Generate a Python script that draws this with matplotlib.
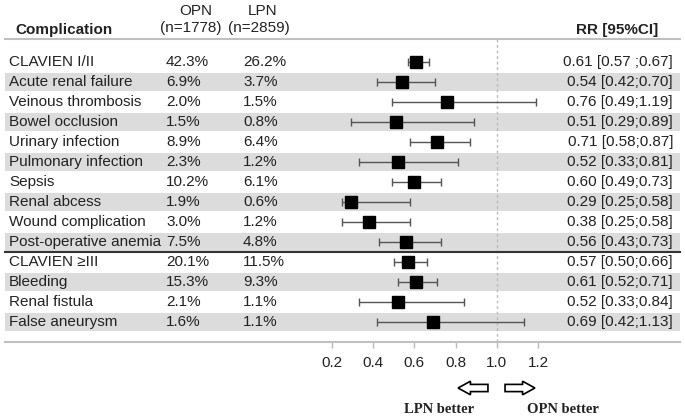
import matplotlib.pyplot as plt
from matplotlib.patches import FancyArrow
import matplotlib.transforms as mtransforms

plt.rcParams['font.family'] = ['Liberation Sans', 'DejaVu Sans']

# data
labels = ["CLAVIEN I/II", "Acute renal failure", "Veinous thrombosis", "Bowel occlusion",
          "Urinary infection", "Pulmonary infection", "Sepsis", "Renal abcess",
          "Wound complication", "Post-operative anemia", "CLAVIEN \u2265III", "Bleeding",
          "Renal fistula", "False aneurysm"]
opn = ["42.3%", "6.9%", "2.0%", "1.5%", "8.9%", "2.3%", "10.2%", "1.9%", "3.0%", "7.5%",
       "20.1%", "15.3%", "2.1%", "1.6%"]
lpn = ["26.2%", "3.7%", "1.5%", "0.8%", "6.4%", "1.2%", "6.1%", "0.6%", "1.2%", "4.8%",
       "11.5%", "9.3%", "1.1%", "1.1%"]
rr = [0.61, 0.54, 0.76, 0.51, 0.71, 0.52, 0.60, 0.29, 0.38, 0.56, 0.57, 0.61, 0.52, 0.69]
lo = [0.57, 0.42, 0.49, 0.29, 0.58, 0.33, 0.49, 0.25, 0.25, 0.43, 0.50, 0.52, 0.33, 0.42]
hi = [0.67, 0.70, 1.19, 0.89, 0.87, 0.81, 0.73, 0.58, 0.58, 0.73, 0.66, 0.71, 0.84, 1.13]
rr_text = ["0.61 [0.57 ;0.67]", "0.54 [0.42;0.70]", "0.76 [0.49;1.19]", "0.51 [0.29;0.89]",
           "0.71 [0.58;0.87]", "0.52 [0.33;0.81]", "0.60 [0.49;0.73]", "0.29 [0.25;0.58]",
           "0.38 [0.25;0.58]", "0.56 [0.43;0.73]", "0.57 [0.50;0.66]", "0.61 [0.52;0.71]",
           "0.52 [0.33;0.84]", "0.69 [0.42;1.13]"]
ticks = [0.2, 0.4, 0.6, 0.8, 1.0, 1.2]

W = 685
fig = plt.figure(figsize=(6.85, 4.2), dpi=100)
ax = fig.add_axes([0, 0, 1, 1])
ax.set_xlim(-1.4117, 1.9136)
ax.set_ylim(17.9, -3.1)

tr = mtransforms.blended_transform_factory(ax.transAxes, ax.transData)
n = len(labels)
rows = list(range(n))
txt = '#222222'

# shaded bands
for i in rows:
    if i % 2 == 1:
        ax.axhspan(i - 0.45, i + 0.45, xmin=5 / W, xmax=680 / W, color='#dcdcdc', lw=0, zorder=0)

# lines
ax.plot([5 / W, 680 / W], [-1.15, -1.15], transform=tr, color='#c0c0c0', lw=1.5)
ax.plot([5 / W, 680 / W], [9.5, 9.5], transform=tr, color='#333333', lw=1.5)
ax.plot([1.0, 1.0], [-1.15, 14], color='#bbbbbb', lw=1, dashes=(2, 2), zorder=1)

# forest marks
for i in rows:
    ax.errorbar(rr[i], i, xerr=[[rr[i] - lo[i]], [hi[i] - rr[i]]], fmt='none',
                ecolor='#555555', elinewidth=1, capsize=3, capthick=1, zorder=2)
ax.plot(rr, rows, 's', color='black', markersize=8, zorder=3)

# table text
fs = 11
for i in rows:
    ax.text(9 / W, i, labels[i], transform=tr, fontsize=fs, color=txt, va='center')
    ax.text(166 / W, i, opn[i], transform=tr, fontsize=fs, color=txt, va='center')
    ax.text(243 / W, i, lpn[i], transform=tr, fontsize=fs, color=txt, va='center')
    ax.text(673 / W, i, rr_text[i], transform=tr, fontsize=fs, color=txt, va='center', ha='right')

ax.text(15 / W, -1.6, "Complication", transform=tr, fontsize=fs, fontweight='bold', color=txt, va='center')
ax.text(196 / W, -2.55, "OPN", transform=tr, fontsize=fs, color=txt, va='center', ha='center')
ax.text(191 / W, -1.7, "(n=1778)", transform=tr, fontsize=fs, color=txt, va='center', ha='center')
ax.text(263 / W, -2.55, "LPN", transform=tr, fontsize=fs, color=txt, va='center', ha='center')
ax.text(259 / W, -1.7, "(n=2859)", transform=tr, fontsize=fs, color=txt, va='center', ha='center')
ax.text(658 / W, -1.6, "RR [95%CI]", transform=tr, fontsize=fs, fontweight='bold', color=txt, va='center', ha='right')

# x axis
for s in ['top', 'left', 'right']:
    ax.spines[s].set_visible(False)
ax.spines['bottom'].set_position(('data', 14))
ax.spines['bottom'].set_bounds(-1.387, 1.889)
ax.spines['bottom'].set_color('#c0c0c0')
ax.spines['bottom'].set_linewidth(1.5)
ax.set_xticks(ticks)
ax.set_xticklabels([f"{t:.1f}" for t in ticks])
ax.tick_params(axis='x', direction='out', length=4, width=1, color='#bbbbbb',
               labelsize=fs, labelcolor=txt, pad=6)
ax.set_yticks([])

# arrows
ax.add_patch(FancyArrow(0.957, 16.3, -0.145, 0, width=0.36, head_width=0.68, head_length=0.06,
                        length_includes_head=True, facecolor='white', edgecolor='black', lw=1.2))
ax.add_patch(FancyArrow(1.04, 16.3, 0.145, 0, width=0.36, head_width=0.68, head_length=0.06,
                        length_includes_head=True, facecolor='white', edgecolor='black', lw=1.2))
ax.text(0.72, 17.35, "LPN better", fontsize=10.5, fontweight='bold', family='Liberation Serif',
        color=txt, va='center', ha='center')
ax.text(1.32, 17.35, "OPN better", fontsize=10.5, fontweight='bold', family='Liberation Serif',
        color=txt, va='center', ha='center')

fig.savefig('out.png', dpi=100)
